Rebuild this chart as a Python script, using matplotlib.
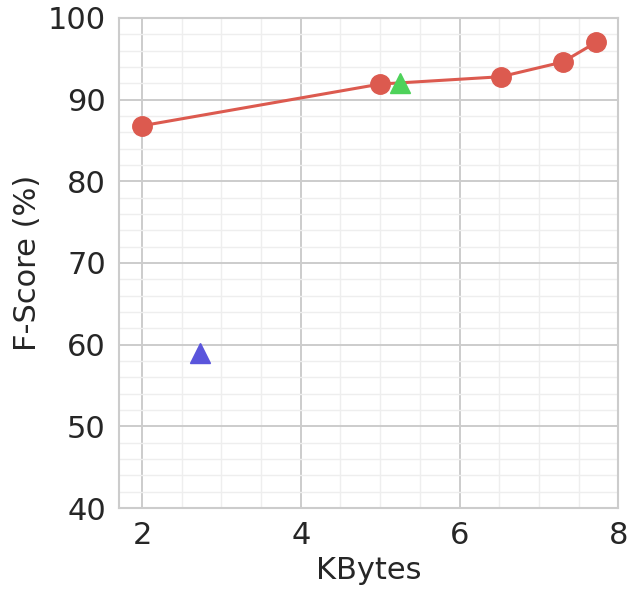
import matplotlib
matplotlib.use("Agg")
import matplotlib.pyplot as plt
import seaborn as sns
from matplotlib.ticker import MultipleLocator

sns.set_theme(style="whitegrid")

# main series
line_kb = [2.0, 5.0, 6.52, 7.3, 7.72]
line_f = [86.8, 91.9, 92.8, 94.6, 97.0]
# single comparison points
green_kb, green_f = [5.25], [92.0]
blue_kb, blue_f = [2.73], [59.0]

fig, ax = plt.subplots(figsize=(6.4, 5.97), dpi=100)

ax.plot(line_kb, line_f, color="#dc5a4f", linewidth=2.2, marker="o",
        markersize=14, zorder=3)
ax.plot(green_kb, green_f, linestyle="none", marker="^", color="#4ed25a",
        markersize=15, zorder=4)
ax.plot(blue_kb, blue_f, linestyle="none", marker="^", color="#5a55dc",
        markersize=15, zorder=4)

ax.set_xlim(1.71, 8.0)
ax.set_ylim(40, 100)
ax.xaxis.set_major_locator(MultipleLocator(2))
ax.xaxis.set_minor_locator(MultipleLocator(0.5))
ax.yaxis.set_major_locator(MultipleLocator(10))
ax.yaxis.set_minor_locator(MultipleLocator(2))
ax.grid(which="major", color="#cccccc", linewidth=1.4)
ax.grid(which="minor", color="#eeeeee", linewidth=1.0)
for s in ax.spines.values():
    s.set_color("#cccccc")
    s.set_linewidth(1.5)

ax.tick_params(labelsize=22, colors="#262626")
ax.set_xlabel("KBytes", fontsize=22, color="#262626")
ax.set_ylabel("F-Score (%)", fontsize=22, color="#262626")

plt.subplots_adjust(left=0.186, right=0.966, top=0.97, bottom=0.149)
plt.savefig("out.png")
